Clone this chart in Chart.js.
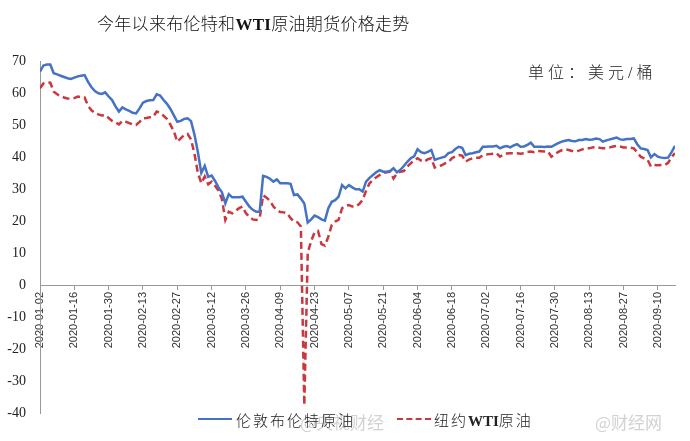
<!DOCTYPE html>
<html>
<head>
<meta charset="utf-8">
<script src="https://cdn.jsdelivr.net/npm/chart.js@4.4.1/dist/chart.umd.min.js"></script>
<style>
  html, body { margin: 0; padding: 0; background: #fff; }
  #wrap { position: relative; width: 690px; height: 441px; overflow: hidden; }
  #chart { position: absolute; left: 0; top: 0; }
  .txt { position: absolute; white-space: nowrap; font-family: "Liberation Serif", "Noto Sans CJK SC", serif; color: #111; }
  #title { left: 97px; top: 10px; font-size: 17px; letter-spacing: 0.3px; font-weight: 300; }
  #title b { font-weight: bold; letter-spacing: 0.3px; }
  #unit { left: 528px; top: 59px; font-size: 16px; letter-spacing: 4px; font-weight: 300; color: #222; }
  .leg { top: 409px; font-size: 15px; letter-spacing: 2px; font-weight: 300; color: #222; }
  .swatch { position: absolute; top: 418px; width: 34px; height: 0; }
  .wm { position: absolute; top: 409px; font-family: "Noto Sans CJK SC", sans-serif; font-size: 17px; color: #d2d2d2; white-space: nowrap; }
</style>
</head>
<body>
<div id="wrap">
  <canvas id="chart" width="690" height="441"></canvas>
  <div class="wm" style="left:300px">@央视财经</div>
  <div class="wm" style="left:595px">@财经网</div>
  <div class="txt" id="title">今年以来布伦特和<b>WTI</b>原油期货价格走势</div>
  <div class="txt" id="unit">单位：美元/桶</div>
  <div class="swatch" style="left:198px; border-top:2.5px solid #4472c4;"></div>
  <div class="txt leg" style="left:236px">伦敦布伦特原油</div>
  <div class="swatch" style="left:397px; border-top:2.5px dashed #c9383e;"></div>
  <div class="txt leg" style="left:434px">纽约<b style="font-weight:bold;letter-spacing:0">WTI</b>原油</div>
</div>
<script>
// etiquetas del eje X: una cada 10 sesiones
const xTickLabels = [
  "2020-01-02", "2020-01-16", "2020-01-30", "2020-02-13", "2020-02-27",
  "2020-03-12", "2020-03-26", "2020-04-09", "2020-04-23", "2020-05-07",
  "2020-05-21", "2020-06-04", "2020-06-18", "2020-07-02", "2020-07-16",
  "2020-07-30", "2020-08-13", "2020-08-27", "2020-09-10"
];

// Brent, valor diario (sesión 0 = 2020-01-02)
const brentPrices = [
  66.7, 68.6, 68.9, 68.9, 66.2, 65.8, 65.4, 65.0, 64.6, 64.4,
  64.8, 65.2, 65.4, 65.6, 63.5, 61.8, 60.6, 59.9, 59.7, 60.2,
  58.9, 57.8, 55.8, 54.2, 55.5, 54.9, 54.4, 53.8, 53.6, 55.2,
  57.0, 57.5, 57.7, 57.8, 59.6, 59.2, 57.8, 56.6, 55.0, 53.0,
  51.0, 51.3, 51.9, 52.1, 51.2, 47.0, 41.5, 35.0, 37.2, 33.8,
  34.2, 32.5, 30.5, 29.0, 25.5, 28.4, 27.4, 27.4, 27.4, 27.6,
  26.0, 24.5, 23.5, 22.9, 22.9, 34.1, 33.8, 33.2, 32.3, 33.0,
  31.8, 31.8, 31.8, 31.6, 28.1, 28.3, 27.0, 25.5, 19.5, 20.5,
  21.7, 21.2, 20.5, 20.1, 24.0, 26.0, 26.5, 27.6, 31.2, 30.2,
  31.2, 30.5, 29.9, 29.9, 29.2, 32.3, 33.5, 34.4, 35.3, 35.9,
  35.4, 35.4, 35.6, 36.5, 35.2, 36.0, 37.2, 38.5, 39.6, 40.2,
  42.4, 41.5, 41.2, 41.6, 42.2, 39.1, 39.5, 39.8, 40.1, 41.2,
  41.5, 42.5, 43.2, 42.9, 40.6, 41.0, 41.2, 41.5, 41.7, 43.2,
  43.2, 43.3, 43.3, 43.5, 42.7, 43.2, 43.4, 43.0, 43.6, 44.0,
  43.2, 43.3, 43.8, 44.5, 43.2, 43.2, 43.2, 43.1, 43.3, 43.2,
  43.8, 44.3, 44.8, 45.1, 45.3, 45.0, 44.9, 45.3, 45.3, 45.6,
  45.4, 45.5, 45.8, 45.6, 44.8, 45.2, 45.5, 45.8, 46.1, 45.5,
  45.4, 45.6, 45.6, 45.8, 44.0, 42.7, 42.5, 42.2, 39.9, 40.9,
  40.1, 39.8, 39.7, 39.8, 41.5, 43.5
];

// WTI, valor diario
const wtiPrices = [
  61.5, 63.0, 63.3, 63.2, 60.4, 59.6, 59.0, 58.6, 58.3, 58.2,
  58.4, 58.9, 58.7, 58.6, 56.0, 54.6, 53.8, 53.3, 53.0, 53.1,
  52.2, 51.3, 50.8, 50.2, 51.3, 51.0, 50.6, 50.2, 50.0, 51.0,
  52.1, 52.2, 52.4, 52.6, 54.2, 53.8, 52.9, 51.9, 50.1, 48.0,
  44.8, 45.8, 46.9, 47.2, 45.5, 41.0, 35.0, 31.8, 33.9, 31.5,
  32.3, 31.0, 29.5, 26.9, 20.3, 22.9, 22.4, 23.2, 24.0, 24.5,
  22.4, 21.3, 20.5, 20.3, 20.8, 28.0, 27.3, 26.3, 24.5, 23.4,
  22.8, 22.7, 22.4, 20.9, 19.8, 19.6, 18.3, -37.6, 10.0, 13.8,
  16.5, 16.9, 12.8, 12.3, 15.1, 18.8, 19.8, 20.4, 24.0, 24.7,
  25.0, 24.5, 24.5, 25.3, 26.6, 29.4, 31.8, 32.8, 33.7, 34.4,
  35.0, 35.2, 35.4, 33.3, 34.9, 35.4, 35.6, 37.0, 38.0, 39.0,
  39.6, 38.9, 38.5, 39.3, 39.6, 36.7, 37.2, 37.4, 38.0, 38.5,
  39.6, 40.2, 40.6, 40.4, 38.5, 39.2, 39.6, 39.8, 39.8, 40.6,
  40.8, 40.9, 41.0, 41.2, 40.1, 40.8, 41.1, 41.2, 41.2, 41.2,
  41.0, 41.2, 41.6, 41.7, 41.5, 41.9, 41.8, 41.7, 41.7, 40.1,
  40.9, 41.6, 42.1, 42.4, 42.2, 41.9, 41.7, 42.0, 42.4, 42.7,
  42.7, 43.0, 43.2, 42.9, 42.7, 42.8, 43.0, 43.3, 43.5, 43.3,
  43.0, 43.0, 42.9, 42.7, 41.5, 40.1, 39.6, 39.2, 37.0, 37.5,
  37.4, 37.5, 37.5, 38.2, 40.0, 41.2
];

const toPoints = arr => arr.map((v, i) => ({ x: i, y: v }));

new Chart(document.getElementById("chart"), {
  type: "line",
  data: {
    datasets: [
      { label: "伦敦布伦特原油", data: toPoints(brentPrices), borderColor: "#4472c4", borderWidth: 2.5, pointRadius: 0, tension: 0 },
      { label: "纽约WTI原油", data: toPoints(wtiPrices), borderColor: "#c9383e", borderWidth: 2.5, borderDash: [7, 4], pointRadius: 0, tension: 0 }
    ]
  },
  options: {
    responsive: false,
    animation: false,
    layout: { padding: { left: 0, top: 61, right: 15, bottom: 28 } },
    plugins: { legend: { display: false }, tooltip: { enabled: false } },
    scales: {
      x: {
        type: "linear",
        min: 0,
        max: 185,
        position: { y: 0 },
        afterFit: s => { s.height = 0; },
        grid: { display: true, drawOnChartArea: false, tickLength: 4, color: "#999" },
        border: { display: true, color: "#999", width: 1 },
        ticks: {
          stepSize: 10,
          autoSkip: false,
          includeBounds: false,
          minRotation: 90,
          maxRotation: 90,
          padding: 3,
          color: "#333",
          font: { family: "Liberation Sans", size: 11 },
          callback: v => (v % 10 === 0 ? xTickLabels[v / 10] : null)
        }
      },
      y: {
        min: -40,
        max: 70,
        afterFit: s => { s.width = 40; },
        grid: { display: false, drawTicks: false },
        border: { display: true, color: "#999", width: 1 },
        ticks: {
          stepSize: 10,
          padding: 14,
          color: "#222",
          font: { family: "Liberation Serif", size: 14 }
        }
      }
    }
  }
});
</script>
</body>
</html>
